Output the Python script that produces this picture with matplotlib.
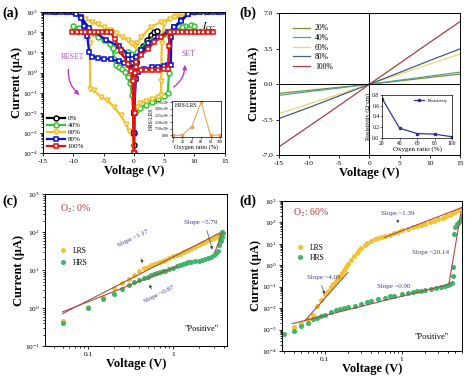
import numpy as np
import matplotlib
matplotlib.use('Agg')
import matplotlib.pyplot as plt
from matplotlib.ticker import NullFormatter

plt.rcParams['font.family'] = ['Liberation Serif', 'DejaVu Serif']
plt.rcParams['mathtext.fontset'] = 'stix'
plt.rcParams['axes.unicode_minus'] = False
plt.rcParams['axes.linewidth'] = 0.7

# ---------------- (a) I-V loops for the oxygen ratios ----------------
v_0 = [0.0, 0.0, 0.05, 0.3, 0.8, 1.5, 2.2, 2.8, 3.3, 3.8, 3.3, 2.6, 2.0, 1.4, 0.8, 0.3,
       -0.3, -0.8, -1.3, -1.8, -2.3, -2.6, -2.2, -1.6, -1.0, -0.5, -0.1, 0.0, 0.0]
i_0 = [1e-4, 2.5e-4, 1e-3, 3, 8, 20, 40, 70, 100, 120, 60, 35, 25, 15, 8, 4,
       3, 5, 8, 10, 15, 20, 12, 8, 5, 3, 2, 1e-3, 1e-4]

v_40 = [0.0, 0.3, 1, 2, 3, 4, 5, 5.6, 5.8, 5.9, 6.5, 7.5, 8.5, 9.5, 10, 8, 6, 5, 4, 3, 2, 1, 0.5, 0.2,
        -0.2, -0.5, -1, -2, -3, -3.5, -4, -5, -6, -7, -8, -9, -10, np.nan,
        -3.5, -3.3, -3, -2.5, -2, -1.5, -1, -0.6, -0.3, 0.0, 0.0]
i_40 = [0.01, 0.012, 0.018, 0.025, 0.035, 0.05, 0.07, 0.1, 1, 60, 150, 200, 200, 220, 200, 180, 100, 80, 60, 40, 25, 15, 10, 6,
        6, 8, 10, 12, 14, 16, 25, 40, 60, 90, 130, 170, 200, np.nan,
        16, 5, 2.3, 2.0, 1.6, 1.1, 0.6, 0.3, 0.08, 1e-3, 1e-4]

v_60 = [0.0, 0.1, 0.5, 1, 2, 3, 4, 4.5, 4.5, 4.6, 5, 6, 7, 8, 9, 10, 11, 10, 8.9, 6.7, 4.5, 2.8, 1.2, 0.5, 0.2,
        -0.2, -0.5, -1, -2, -3, -4, -5, -6, -7, -8, -9, -10, -9, -8, -7.5, -7.3, -7.2,
        -6.6, -5.5, -4.4, -3.3, -2.2, -1.3, -0.8, -0.2, 0.0]
i_60 = [1e-3, 0.01, 0.02, 0.03, 0.04, 0.05, 0.06, 0.08, 0.4, 30, 300, 480, 650, 780, 900, 1000, 1000, 950, 860, 590, 330, 186, 60, 30, 20,
        25, 30, 40, 60, 90, 130, 180, 250, 330, 450, 650, 900, 600, 200, 60, 30, 0.15,
        0.13, 0.062, 0.042, 0.02, 0.0076, 0.0029, 0.0013, 6.3e-4, 1e-4]

v_80 = [0.0, 0.0, 0.3, 0.6, 1.7, 3, 3.9, 5, 5.6, 6.1, 6.2, 6.7, 7.8, 8.9, 10, 11, 12, 13, 14, 15,
        14, 12, 10, 8.9, 7.8, 6.7, 5.6, 3.9, 2.3, 1.2, 0.3, -0.3, -0.9, -2.4, -4.6, -7.4, -8.8,
        -10, -11, -12, -13, -14, -15, -13, -11, -10, -9.5, -8.8, -8.2, -7.7, -7.4, -7.0,
        -6.0, -5.0, -3.8, -2.5, -1.6, -0.8, -0.2, 0.0, 0.0]
i_80 = [1e-3, 0.01, 0.5, 1.1, 1.6, 1.8, 1.9, 2.1, 2.3, 2.5, 60, 190, 400, 800, 1000, 1000, 1000, 1000, 1000, 1000,
        1000, 1000, 1000, 800, 350, 180, 100, 60, 28, 13, 6, 5, 7.6, 20, 42, 160, 600,
        1000, 1000, 1000, 1000, 1000, 1000, 1000, 1000, 1000, 800, 500, 200, 63, 10, 6,
        5.5, 5, 4.7, 3.8, 3, 2.3, 1.6, 0.01, 1e-3]

v_100 = [0.05, 0.1, 0.2, 0.3, 1.2, 2, 3, 4, 5, 5.6, 5.8, 5.9, 6.6, 7.3, 8.0, 8.7, 9.4, 10.1, 10.8, 11.5, 12.2, 13,
         5.9, 4.5, 3.4, 2.3, 1.2, 0.3, 0.0, 0.0,
         -0.2, -0.5, -1.05, -2.2, -3.2, -3.8, -4.5, -5.2, -5.9, -6.6, -7.3, -8.0, -8.7, -9.4, -10.2]
i_100 = [1e-4, 0.01, 1, 1.8, 1.4, 1.4, 1.4, 1.4, 1.5, 1.6, 20, 100, 100, 100, 100, 100, 100, 100, 100, 100, 100, 100,
         100, 60, 33, 15, 7.2, 3.4, 0.5, 1e-4,
         0.4, 1.2, 2.8, 12.6, 45, 100, 100, 100, 100, 100, 100, 100, 100, 100, 100]

ratio_a = [0, 20, 40, 60, 80, 100]
hrs_lrs = [10, 20, 1000, 3750, 20, 50]
hrs_lrs_ticks = [0, 750, 1500, 2250, 3000, 3750]
hrs_lrs_ticklabels = ['0.00', '7.50x10²', '1.50x10³', '2.25x10³', '3.00x10³', '3.75x10³']

# ---------------- (b) linear I-V ----------------
v_b = [-15, -10, -5, 0, 5, 10, 15]
i_b = {
    '20%': [-0.9, -0.6, -0.3, 0, 0.33, 0.67, 1.0],
    '40%': [-1.1, -0.73, -0.37, 0, 0.4, 0.8, 1.2],
    '60%': [-2.9, -1.95, -0.98, 0, 1.0, 2.0, 3.0],
    '80%': [-3.4, -2.3, -1.15, 0, 1.17, 2.35, 3.5],
    '100%': [-6.2, -4.15, -2.1, 0, 2.07, 4.15, 6.2],
}
colors_b = ['#7e8a3a', '#52a38c', '#e8d870', '#3f5f7f', '#a3403e']
ratio_b = [20, 40, 60, 80, 100]
resistivity = [0.73, 0.18, 0.08, 0.07, 0.02]

# ---------------- (c) O2 0 % log-log ----------------
vc_lrs = [0.05, 0.10, 0.15, 0.20, 0.25, 0.30, 0.35, 0.40, 0.45, 0.50, 0.55, 0.60, 0.65, 0.70, 0.75, 0.80,
          0.90, 1.00, 1.10, 1.20, 1.30, 1.40, 1.50, 1.60, 1.80, 2.00, 2.20, 2.40, 2.60, 2.80, 3.00, 3.20,
          3.40, 3.60, 3.80]
ic_lrs = [0.45, 1.05, 2.0, 3.4, 4.7, 6.0, 7.6, 9.8, 11.5, 12.5, 13.6, 14.8, 15.9, 17.0, 18.0, 19.0,
          21.0, 23.5, 25.5, 27.5, 29.5, 32, 34, 36, 41, 46, 51, 56, 61, 66, 72, 78,
          85, 93, 100]
vc_hrs = [0.05, 0.10, 0.15, 0.20, 0.25, 0.30, 0.35, 0.40, 0.45, 0.50, 0.55, 0.60, 0.65, 0.70, 0.75, 0.80,
          0.90, 1.00, 1.10, 1.20, 1.30, 1.40, 1.50, 1.60, 1.80, 2.00, 2.20, 2.40, 2.60, 2.80, 3.00, 3.20,
          3.40, 3.50, 3.60, 3.70, 3.80, 3.90, 3.80, 3.70]
ic_hrs = [0.40, 1.0, 1.7, 2.4, 3.2, 4.0, 4.9, 5.6, 6.2, 6.8, 7.3, 7.8, 8.3, 8.8, 9.3, 9.8,
          10.8, 11.8, 12.8, 13.8, 14.8, 15.6, 16.3, 17.0, 17.5, 18.0, 18.5, 19.5, 21, 23, 25, 28,
          33, 45, 65, 85, 100, 95, 75, 60]
fit_c = [([0.05, 3.5], [0.72, 95]), ([0.05, 1.1], [0.8, 12.5]), ([3.1, 3.8], [30, 100])]

# ---------------- (d) O2 60 % log-log ----------------
vd_lrs = [0.04, 0.05, 0.06, 0.07, 0.08, 0.09, 0.10, 0.11, 0.12, 0.13, 0.14, 0.15, 0.16, 0.17, 0.18, 0.19,
          0.20, 0.22, 0.24, 0.26, 0.28, 0.30, 0.33, 0.36, 0.40, 0.45, 0.50, 0.55, 0.60, 0.70, 0.80, 0.90,
          1.0, 1.2, 1.4, 1.6, 1.8, 2.0, 2.3, 2.6, 3.0, 3.4, 3.8, 4.2, 4.6, 5.0, 5.5, 6.0]
id_lrs = [1.3e-3, 2.0e-3, 3.0e-3, 5e-3, 0.0126, 0.025, 0.045, 0.065, 0.095, 0.13, 0.18, 0.25, 0.32, 0.45, 0.6, 0.8,
          1.1, 1.8, 2.8, 3.8, 5.2, 6.5, 8.5, 10.5, 13, 16, 18, 20, 22, 27, 32, 37,
          42, 50, 58, 68, 78, 88, 102, 118, 140, 165, 190, 225, 265, 310, 380, 460]
vd_hrs = [0.03, 0.04, 0.05, 0.06, 0.07, 0.08, 0.09, 0.10, 0.12, 0.14, 0.16, 0.18, 0.20, 0.25, 0.30, 0.35,
          0.40, 0.50, 0.60, 0.70, 0.80, 1.0, 1.2, 1.4, 1.6, 1.8, 2.0, 2.4, 2.8, 3.2, 3.6, 4.0,
          4.3, 4.5, 4.6, 4.6, 4.8, 5.0, 5.3, 5.6, 5.9, 6.1]
id_hrs = [6e-4, 9e-4, 1.5e-3, 2.1e-3, 3e-3, 3.6e-3, 4.3e-3, 5e-3, 6.5e-3, 8e-3, 9e-3, 0.01, 0.011, 0.013, 0.016, 0.019,
          0.021, 0.026, 0.031, 0.035, 0.038, 0.045, 0.05, 0.055, 0.06, 0.065, 0.07, 0.08, 0.09, 0.1, 0.11, 0.12,
          0.13, 0.15, 0.8, 0.3, 30, 60, 80, 100, 150, 200]
fit_d = [([0.038, 4.2], [1.9e-3, 0.13]), ([0.055, 0.2], [2.5e-3, 0.46]),
         ([0.6, 6.1], [20, 500]), ([4.1, 5.9], [0.13, 300])]

LRS_COLOR = '#f2c233'
HRS_COLOR = '#3db56a'
FIT_COLOR = '#a0504a'
NOTE_COLOR = '#3c3c8c'
O2_COLOR = '#b03a3a'

fig = plt.figure(figsize=(4.74, 3.82), dpi=100)


def style(ax, labelsize=5.3):
    ax.tick_params(which='both', direction='out', labelsize=labelsize, width=0.6, pad=1.5)
    ax.tick_params(which='major', length=2.5)
    ax.tick_params(which='minor', length=1.5)


def labels(ax, ypad=1):
    ax.set_xlabel('Voltage (V)', fontsize=9, fontweight='bold', labelpad=1)
    ax.set_ylabel(ax.get_ylabel(), fontsize=9, fontweight='bold', labelpad=ypad)


# ---- (a)
ax = fig.add_axes([0.091, 0.599, 0.383, 0.369])
loops = [(v_0, i_0, 'k', 'o', '0%'), (v_40, i_40, '#33c433', 'o', '40%'),
         (v_60, i_60, '#f2c12e', 'v', '60%'), (v_80, i_80, '#0a10d8', 's', '80%'),
         (v_100, i_100, '#e31010', 's', '100%')]
for v, i, c, m, lab in loops:
    ax.plot(v, i, color=c, marker=m, ms=3.5, mfc='white', mec=c, mew=1.1, lw=1.6, label=lab)
ax.set_yscale('log')
ax.set_xlim(-15, 15)
ax.set_ylim(1e-4, 1e3)
ax.set_xticks([-15, -10, -5, 0, 5, 10, 15])
ax.set_ylabel('Current (μA)')
style(ax)
labels(ax, ypad=0)
ax.legend(loc='lower left', fontsize=5, frameon=False, handlelength=2.6, labelspacing=0.15,
          borderaxespad=0.2, handletextpad=0.3)
ax.annotate('', xy=(-8.6, 0.065), xytext=(-10.8, 2.0),
            arrowprops=dict(arrowstyle='-|>', color='#c03cc8', lw=1.0, mutation_scale=6,
                            connectionstyle='arc3,rad=0.3'))
ax.text(-10.1, 4.5, 'RESET', color='#b050c0', fontsize=5.5, ha='center')
ax.annotate('', xy=(8.4, 3.4), xytext=(6.2, 0.16),
            arrowprops=dict(arrowstyle='-|>', color='#c03cc8', lw=1.0, mutation_scale=6,
                            connectionstyle='arc3,rad=0.3'))
ax.text(9.0, 7, 'SET', color='#b050c0', fontsize=5.5, ha='center')
ax.text(11.2, 140, r'$I_{\rm CC}$', fontsize=7)

ins = fig.add_axes([0.363, 0.642, 0.103, 0.094])
ins.plot(ratio_a, hrs_lrs, color='#e8a45a', marker='o', ms=1.8, lw=0.8)
ins.set_xlim(-2, 102)
ins.set_ylim(-150, 3900)
ins.set_xticks([0, 20, 40, 60, 80, 100])
ins.set_yticks(hrs_lrs_ticks)
ins.set_yticklabels(hrs_lrs_ticklabels)
ins.tick_params(labelsize=2.9, length=1.2, width=0.4, pad=0.8)
ins.set_xlabel('Oxygen ratio (%)', fontsize=4.5, labelpad=0.5)
ins.set_ylabel('HRS/LRS', fontsize=4, labelpad=1.2)
ins.text(0.06, 0.82, 'HRS/LRS', transform=ins.transAxes, fontsize=4)
for s in ins.spines.values():
    s.set_linewidth(0.5)

# ---- (b)
ax = fig.add_axes([0.588, 0.594, 0.383, 0.371])
for (lab, vals), c in zip(i_b.items(), colors_b):
    ax.plot(v_b, vals, color=c, lw=0.9, label=lab)
ax.axhline(0, color='k', lw=0.7)
ax.axvline(0, color='k', lw=0.7)
ax.set_xlim(-15, 15)
ax.set_ylim(-7, 7)
ax.set_xticks([-15, -10, -5, 0, 5, 10, 15])
ax.set_yticks([-7, -3.5, 0, 3.5, 7])
ax.set_yticklabels(['-7.0', '-3.5', '0.0', '3.5', '7.0'])
ax.set_ylabel('Current (mA)')
style(ax)
labels(ax, ypad=1)
ax.legend(loc='upper left', fontsize=5.5, frameon=False, handlelength=2.3, labelspacing=0.2,
          bbox_to_anchor=(0.04, 0.97), handletextpad=0.6)

ins = fig.add_axes([0.806, 0.639, 0.148, 0.113])
ins.plot(ratio_b, resistivity, color='#2b3a8c', marker='s', ms=1.8, lw=0.9, label='Resistivity')
ins.set_xlim(20, 100)
ins.set_ylim(0, 0.8)
ins.set_xticks([20, 40, 60, 80, 100])
ins.set_yticks([0, 0.2, 0.4, 0.6, 0.8])
ins.set_yticklabels(['0.0', '0.2', '0.4', '0.6', '0.8'])
ins.tick_params(labelsize=4, length=1.2, width=0.4, pad=0.8)
ins.set_xlabel('Oxygen ratio (%)', fontsize=5, labelpad=0.5)
ins.set_ylabel('Resistivity (Ω·cm)', fontsize=4.5, labelpad=0.5)
ins.legend(loc='upper right', fontsize=3.3, frameon=False, handlelength=2.2)
for s in ins.spines.values():
    s.set_linewidth(0.5)

# ---- (c)
ax = fig.add_axes([0.095, 0.094, 0.383, 0.397])
ax.plot(vc_lrs, ic_lrs, ls='none', marker='o', ms=2.6, color=LRS_COLOR, label='LRS')
ax.plot(vc_hrs, ic_hrs, ls='none', marker='o', ms=2.6, color=HRS_COLOR, label='HRS')
for x, y in fit_c:
    ax.plot(x, y, color=FIT_COLOR, lw=0.8)
ax.set_xscale('log')
ax.set_yscale('log')
ax.set_xlim(0.031, 4.25)
ax.set_ylim(0.1, 1000)
ax.set_xticks([0.1, 1])
ax.set_xticklabels(['0.1', '1'])
ax.xaxis.set_minor_formatter(NullFormatter())
ax.set_ylabel('Current (μA)')
style(ax)
labels(ax, ypad=0)
ax.legend(loc='upper left', bbox_to_anchor=(0.04, 0.70), fontsize=5.5, frameon=False,
          handlelength=1, markerscale=1.0, labelspacing=0.5)
ax.text(0.08, 0.89, r'O$_2$: 0%', transform=ax.transAxes, color=O2_COLOR, fontsize=7)
ax.text(0.34, 40, 'Slope ~1.17', color=NOTE_COLOR, fontsize=5, rotation=26, ha='center')
ax.annotate('', xy=(0.44, 13), xytext=(0.42, 24),
            arrowprops=dict(arrowstyle='-|>', color='#444444', lw=0.5, mutation_scale=4))
ax.text(2.1, 165, 'Slope ~5.79', color=NOTE_COLOR, fontsize=5, ha='center')
ax.annotate('', xy=(2.95, 30), xytext=(2.45, 130),
            arrowprops=dict(arrowstyle='-|>', color='#444444', lw=0.5, mutation_scale=4))
ax.text(0.68, 1.4, 'Slope ~0.87', color=NOTE_COLOR, fontsize=5, rotation=26, ha='center')
ax.annotate('', xy=(0.5, 4.8), xytext=(0.58, 2.8),
            arrowprops=dict(arrowstyle='-|>', color='#444444', lw=0.5, mutation_scale=4))
ax.text(0.86, 0.1, '"Positive"', transform=ax.transAxes, fontsize=6, ha='center')

# ---- (d)
ax = fig.add_axes([0.595, 0.081, 0.380, 0.393])
ax.plot(vd_lrs, id_lrs, ls='none', marker='o', ms=2.6, color=LRS_COLOR, label='LRS')
ax.plot(vd_hrs, id_hrs, ls='none', marker='o', ms=2.6, color=HRS_COLOR, label='HRS')
for x, y in fit_d:
    ax.plot(x, y, color=FIT_COLOR, lw=0.8)
ax.set_xscale('log')
ax.set_yscale('log')
ax.set_xlim(0.028, 6.1)
ax.set_ylim(1e-4, 1e3)
ax.set_xticks([0.1, 1])
ax.set_xticklabels(['0.1', '1'])
ax.xaxis.set_minor_formatter(NullFormatter())
ax.set_ylabel('Current (μA)')
style(ax)
labels(ax, ypad=0)
ax.legend(loc='upper left', bbox_to_anchor=(0.04, 0.76), fontsize=5.5, frameon=False,
          handlelength=1, labelspacing=0.3)
ax.text(0.06, 0.9, r'O$_2$: 60%', transform=ax.transAxes, color=O2_COLOR, fontsize=7)
ax.text(0.88, 230, 'Slope ~1.39', color=NOTE_COLOR, fontsize=5, ha='center')
ax.annotate('', xy=(0.92, 68), xytext=(0.88, 140),
            arrowprops=dict(arrowstyle='-|>', color='#444444', lw=0.5, mutation_scale=4))
ax.text(2.4, 3.3, 'Slope ~20.14', color=NOTE_COLOR, fontsize=5, ha='center')
ax.text(0.098, 0.22, 'Slope ~4.05', color=NOTE_COLOR, fontsize=5, ha='center')
ax.annotate('', xy=(0.103, 0.034), xytext=(0.089, 0.15),
            arrowprops=dict(arrowstyle='-|>', color='#444444', lw=0.5, mutation_scale=4))
ax.text(0.8, 0.085, 'Slope ~0.90', color=NOTE_COLOR, fontsize=5, ha='center')
ax.text(0.83, 0.08, '"Positive"', transform=ax.transAxes, fontsize=6, ha='center')

for lab, x, y in [('(a)', 0.005, 0.955), ('(b)', 0.505, 0.955), ('(c)', 0.005, 0.465), ('(d)', 0.505, 0.465)]:
    fig.text(x, y, lab, fontsize=10, fontweight='bold')

fig.savefig('out.png', dpi=100)
